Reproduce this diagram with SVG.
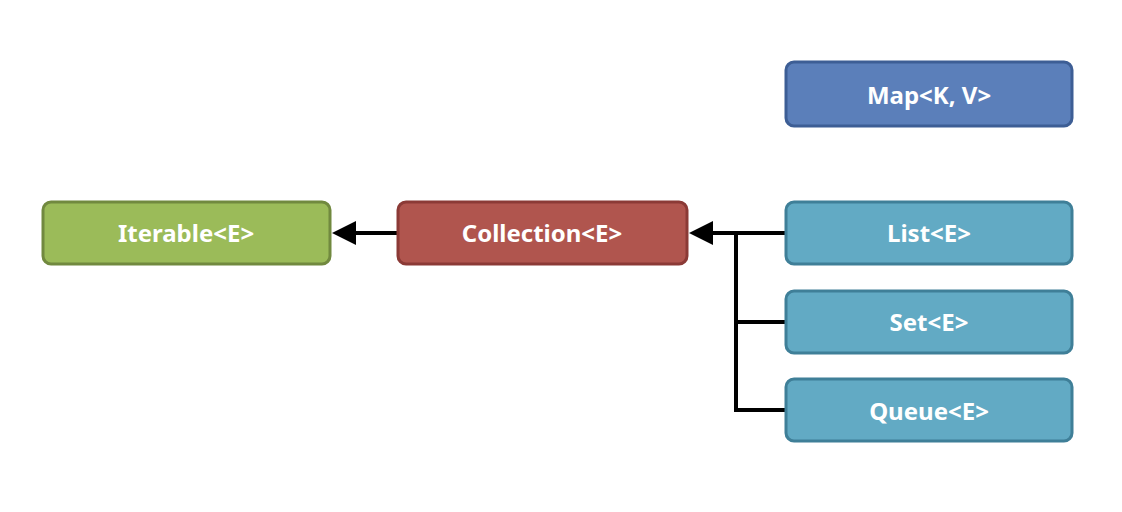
<svg xmlns="http://www.w3.org/2000/svg" width="1122" height="512" viewBox="0 0 1122 512">
<style>
.n{stroke-width:3}
.t{font-family:"Noto Sans","Open Sans",sans-serif;font-weight:bold;font-size:24px;fill:#fff;text-anchor:middle;dominant-baseline:central}
.c{stroke:#000;stroke-width:4;fill:none}
</style>
<defs><marker id="a" markerWidth="6" markerHeight="6" refX="5" refY="3" orient="auto" markerUnits="strokeWidth"><path d="M0,0L6,3L0,6z" fill="#000"/></marker></defs>
<rect width="1122" height="512" fill="#fff"/>
<g id="connectors">
<path class="c" d="M397,233H336" marker-end="url(#a)"/>
<path class="c" d="M785,233H693" marker-end="url(#a)"/>
<path class="c" d="M736,233V410H785M736,322H785"/>
</g>
<g id="iterable"><rect class="n" x="43" y="202" width="287" height="62" rx="8" fill="#9bbb59" stroke="#71893f"/><text class="t" x="186" y="232">Iterable&lt;E&gt;</text></g>
<g id="collection"><rect class="n" x="398" y="202" width="289" height="62" rx="8" fill="#b0554e" stroke="#8b3a36"/><text class="t" x="542" y="232">Collection&lt;E&gt;</text></g>
<g id="map"><rect class="n" x="786" y="62" width="286" height="64" rx="8" fill="#5b7fba" stroke="#3d5e95"/><text class="t" x="929" y="94">Map&lt;K, V&gt;</text></g>
<g id="list"><rect class="n" x="786" y="202" width="286" height="62" rx="8" fill="#62aac4" stroke="#3f7f98"/><text class="t" x="929" y="232">List&lt;E&gt;</text></g>
<g id="set"><rect class="n" x="786" y="291" width="286" height="62" rx="8" fill="#62aac4" stroke="#3f7f98"/><text class="t" x="929" y="321">Set&lt;E&gt;</text></g>
<g id="queue"><rect class="n" x="786" y="379" width="286" height="62" rx="8" fill="#62aac4" stroke="#3f7f98"/><text class="t" x="929" y="410">Queue&lt;E&gt;</text></g>
</svg>
